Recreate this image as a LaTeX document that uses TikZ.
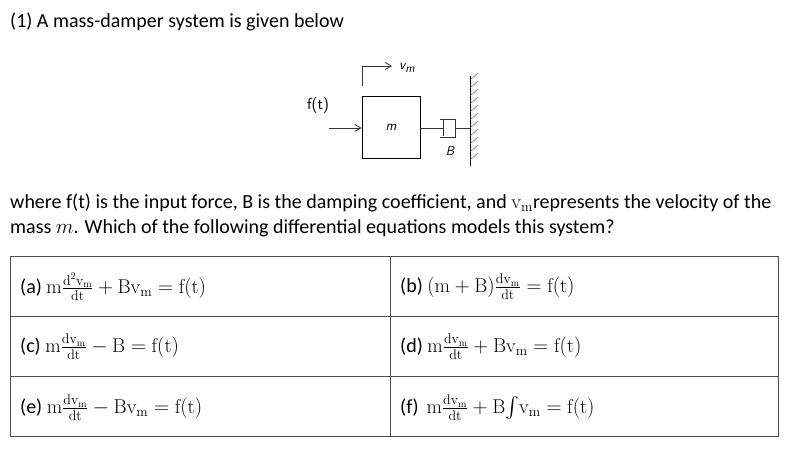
\documentclass[tikz,border=0pt]{standalone}
\usepackage{amsmath}
\usepackage{fontspec}
\setmainfont{Carlito}
\setmathrm{Latin Modern Roman}
\usetikzlibrary{arrows.meta,patterns}
\begin{document}
\begin{tikzpicture}[x=1pt,y=-1pt,
  txt/.style={anchor=west,inner sep=0pt,font=\fontsize{20}{24}\selectfont},
  dia/.style={font=\fontsize{16}{18}\selectfont\sffamily,inner sep=0pt},
  ln/.style={draw=black!80,line width=0.8pt}]
\useasboundingbox (0,0) rectangle (804,455);
\node[txt] (q) at (10,22) {(1) A mass-damper system is given below};
% diagram
\node[draw,line width=0.8pt,minimum width=58pt,minimum height=62pt,inner sep=0pt] (m) at (391,127) {\itshape\sffamily\fontsize{14}{16}\selectfont m};
\node[dia] (f) at (318,106) {f(t)};
\coordinate (fs) at (329,128);
\draw[ln,-{Straight Barb[length=6pt,width=7pt]}] (fs) -- (m.west |- fs);
\coordinate (v0) at (362,86);
\coordinate (v1) at (362,66);
\coordinate (v2) at (392,66);
\draw[ln,-{Straight Barb[length=6pt,width=7pt]}] (v0) -- (v1) -- (v2);
\node[dia,font=\itshape\sffamily\fontsize{14}{16}\selectfont] (vm) at (407,68) {v\raisebox{-3pt}{\fontsize{12}{13}\selectfont m}};
\coordinate (w1) at (470,76);
\coordinate (w2) at (470,166);
\draw[line width=0.8pt] (w1) -- (w2);
\foreach \y in {80,88,...,164} \draw[line width=0.4pt,black!70] (470,\y) -- (478,\y-7);
\coordinate (d1) at (443,128);
\coordinate (d2) at (456,128);
\draw[ln] (m.east |- d1) -- (d1);
\draw[ln] (d2) -- (w1 |- d2);
\draw[ln] (443,120) -- (443,136);
\draw[ln] (440,119) -- (455,119) -- (455,137) -- (440,137);
\node[dia,font=\itshape\sffamily\fontsize{13}{15}\selectfont] (b) at (450,151) {B};
\node[txt] (t1) at (10,203) {where f(t) is the input force, B is the damping coefficient, and $\mathrm{v_m}$represents the velocity of the};
\node[txt] (t2) at (10,228) {mass $m$. Which of the following differential equations models this system?};
% table
\draw[line width=0.8pt,black!70] (10,256) rectangle (778,436);
\draw[line width=0.8pt,black!70] (10,316) -- (778,316) (10,376) -- (778,376) (390,256) -- (390,436);
\node[txt] (a) at (20,287) {(a) $\mathrm{m\frac{d^2v_m}{dt}+Bv_m=f(t)}$};
\node[txt] (bb) at (400,287) {(b) $\mathrm{(m+B)\frac{dv_m}{dt}=f(t)}$};
\node[txt] (c) at (20,347) {(c) $\mathrm{m\frac{dv_m}{dt}-B=f(t)}$};
\node[txt] (d) at (400,347) {(d) $\mathrm{m\frac{dv_m}{dt}+Bv_m=f(t)}$};
\node[txt] (e) at (20,408) {(e) $\mathrm{m\frac{dv_m}{dt}-Bv_m=f(t)}$};
\node[txt] (ff) at (400,408) {(f)\, $\mathrm{m\frac{dv_m}{dt}+B{\textstyle\int} v_m=f(t)}$};
\end{tikzpicture}
\end{document}
